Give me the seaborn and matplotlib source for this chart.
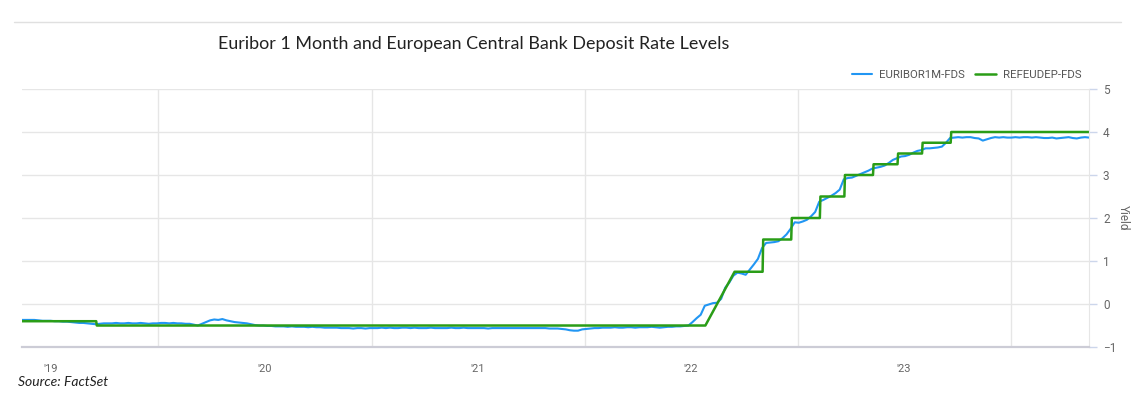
import matplotlib
matplotlib.use("Agg")
import matplotlib.pyplot as plt
from matplotlib.lines import Line2D
import seaborn as sns
import pandas as pd

# weekly Euribor 1M readings, starting 2019-05-13
start_date = "2019-05-13"
end_date = "2024-05-13"

euribor_2019 = [-0.37, -0.37, -0.37, -0.37, -0.38, -0.39, -0.39, -0.39, -0.40, -0.40,
                -0.41, -0.41, -0.42, -0.43, -0.44, -0.44, -0.45, -0.46, -0.47, -0.46,
                -0.45, -0.45, -0.45, -0.44, -0.45, -0.45, -0.44, -0.45, -0.45, -0.44,
                -0.45, -0.46, -0.45, -0.45]
euribor_2020 = [-0.44, -0.44, -0.45, -0.44, -0.45, -0.45, -0.46, -0.46,
                -0.48, -0.50, -0.46, -0.42, -0.38, -0.36, -0.37, -0.35, -0.38,
                -0.40, -0.42, -0.43, -0.44, -0.45, -0.47, -0.49, -0.50, -0.50,
                -0.51, -0.51, -0.52, -0.52, -0.52, -0.53, -0.52, -0.53, -0.53,
                -0.53, -0.54, -0.53, -0.54, -0.54, -0.55, -0.55, -0.55,
                -0.55, -0.56, -0.56, -0.56, -0.57, -0.56, -0.56, -0.57, -0.56]
euribor_2021 = [-0.56, -0.56, -0.55, -0.56, -0.55, -0.56, -0.56, -0.55,
                -0.55, -0.56, -0.55, -0.56, -0.56, -0.56, -0.55, -0.56, -0.56,
                -0.56, -0.56, -0.55, -0.56, -0.56, -0.55, -0.56, -0.56, -0.56,
                -0.56, -0.56, -0.57, -0.56, -0.56, -0.56, -0.56, -0.56, -0.56,
                -0.56, -0.56, -0.56, -0.56, -0.56, -0.56, -0.56, -0.56,
                -0.57, -0.57, -0.57, -0.58, -0.59, -0.61, -0.62, -0.62, -0.59]
euribor_2022 = [-0.58, -0.57, -0.56, -0.56, -0.55, -0.55, -0.55, -0.54, -0.55,
                -0.55, -0.54, -0.54, -0.55, -0.54, -0.54, -0.54, -0.53,
                -0.54, -0.55, -0.54, -0.53, -0.53, -0.52, -0.52, -0.51, -0.50,
                -0.42, -0.33, -0.25, -0.04, -0.01, 0.02, 0.03, 0.12, 0.38,
                0.50, 0.66, 0.73, 0.71, 0.68, 0.80, 0.92, 1.05, 1.30,
                1.42, 1.43, 1.44, 1.46, 1.53, 1.62, 1.75, 1.90]
euribor_2023 = [1.89, 1.92, 1.96, 2.04, 2.14, 2.38, 2.42, 2.47, 2.52,
                2.58, 2.66, 2.90, 2.93, 2.94, 2.98, 3.02, 3.06,
                3.10, 3.15, 3.17, 3.19, 3.22, 3.28, 3.35, 3.39, 3.43,
                3.44, 3.47, 3.52, 3.56, 3.58, 3.62, 3.62, 3.63, 3.64,
                3.66, 3.75, 3.86, 3.87, 3.88, 3.87, 3.88, 3.88, 3.86,
                3.85, 3.80, 3.83, 3.86, 3.88, 3.87, 3.88, 3.87]
euribor_2024 = [3.87, 3.88, 3.87, 3.88, 3.88, 3.87, 3.88, 3.87, 3.86, 3.86,
                3.87, 3.85, 3.86, 3.87, 3.88, 3.86, 3.85, 3.87, 3.88, 3.87]

# ECB deposit facility rate changes
ecb_dates = ["2019-05-13", "2019-09-18", "2022-07-27", "2022-09-14", "2022-11-02",
             "2022-12-21", "2023-02-08", "2023-03-22", "2023-05-10", "2023-06-21",
             "2023-08-02", "2023-09-20"]
ecb_rates = [-0.40, -0.50, 0.00, 0.75, 1.50, 2.00, 2.50, 3.00, 3.25, 3.50, 3.75, 4.00]

year_ticks = ["2020-01-01", "2021-01-01", "2022-01-01", "2023-01-01", "2024-01-01"]
label_ticks = ["2019-07-01", "2020-07-01", "2021-07-01", "2022-07-01", "2023-07-01"]
year_labels = ["'19", "'20", "'21", "'22", "'23"]

euribor = pd.DataFrame({
    "date": pd.date_range(start_date, end_date, freq="7D"),
    "rate": euribor_2019 + euribor_2020 + euribor_2021 + euribor_2022 + euribor_2023 + euribor_2024,
})

days = pd.date_range(start_date, end_date, freq="D")
ecb = pd.Series(ecb_rates, index=pd.to_datetime(ecb_dates)).reindex(days).ffill()
# the feed has no prints while the rate sat at 0, so the line just joins across
ecb = ecb[ecb != 0].rename("rate").rename_axis("date").reset_index()

sns.set_style("white")
plt.rcParams["font.family"] = ["Roboto", "DejaVu Sans"]

fig = plt.figure(figsize=(11.36, 3.98), dpi=100)
ax = fig.add_axes([0.0194, 0.1281, 0.9393, 0.6483])

sns.lineplot(data=euribor, x="date", y="rate", ax=ax, color="#2196f3",
             linewidth=1.5, estimator=None, label="EURIBOR1M-FDS")
sns.lineplot(data=ecb, x="date", y="rate", ax=ax, color="#2a9d17",
             linewidth=1.8, estimator=None, label="REFEUDEP-FDS")

ax.set_xlim(pd.Timestamp(start_date), pd.Timestamp(end_date))
ax.set_ylim(-1, 5)
ax.set_yticks(range(-1, 6))

ax.set_xticks(pd.to_datetime(year_ticks))
ax.set_xticklabels([""] * len(year_ticks))
ax.set_xticks(pd.to_datetime(label_ticks), minor=True)
ax.set_xticklabels(year_labels, minor=True)
ax.tick_params(axis="x", which="major", length=7, color="#e6e6e6", width=1)
ax.tick_params(axis="x", which="minor", length=0, pad=12, labelsize=8, labelcolor="#666666")

ax.yaxis.tick_right()
ax.yaxis.set_label_position("right")
ax.tick_params(axis="y", length=6, color="#ccd6eb", width=1, pad=4,
               labelsize=8.5, labelcolor="#666666")
ax.set_ylabel("Yield", rotation=270, labelpad=10, fontsize=8.5, color="#666666")
ax.set_xlabel("")

ax.grid(axis="x", which="major", color="#e6e6e6", linewidth=1)
ax.grid(axis="y", color="#e6e6e6", linewidth=1)
ax.set_axisbelow(True)
for side in ["top", "left"]:
    ax.spines[side].set_visible(False)
ax.spines["right"].set_color("#e6e6e6")
ax.spines["bottom"].set_color("#ccccd6")
ax.spines["bottom"].set_linewidth(1.6)

leg = ax.legend(loc="center right", bbox_to_anchor=(0.997, 1.054), ncol=2, frameon=False,
                fontsize=8.2, handlelength=1.8, handletextpad=0.6, columnspacing=0.9,
                borderaxespad=0)
for t in leg.get_texts():
    t.set_color("#555555")

fig.add_artist(Line2D([0.012, 0.987], [0.9447, 0.9447], color="#e0e0e0", linewidth=1))
fig.text(0.417, 0.889, "Euribor 1 Month and European Central Bank Deposit Rate Levels",
         ha="center", va="center", fontsize=12.9, family="Lato", color="#222222")
fig.text(0.016, 0.040, "Source: FactSet", ha="left", va="center", fontsize=10,
         family="Lato", style="italic", color="#222222")

fig.savefig("out.png", dpi=100, facecolor="white")
